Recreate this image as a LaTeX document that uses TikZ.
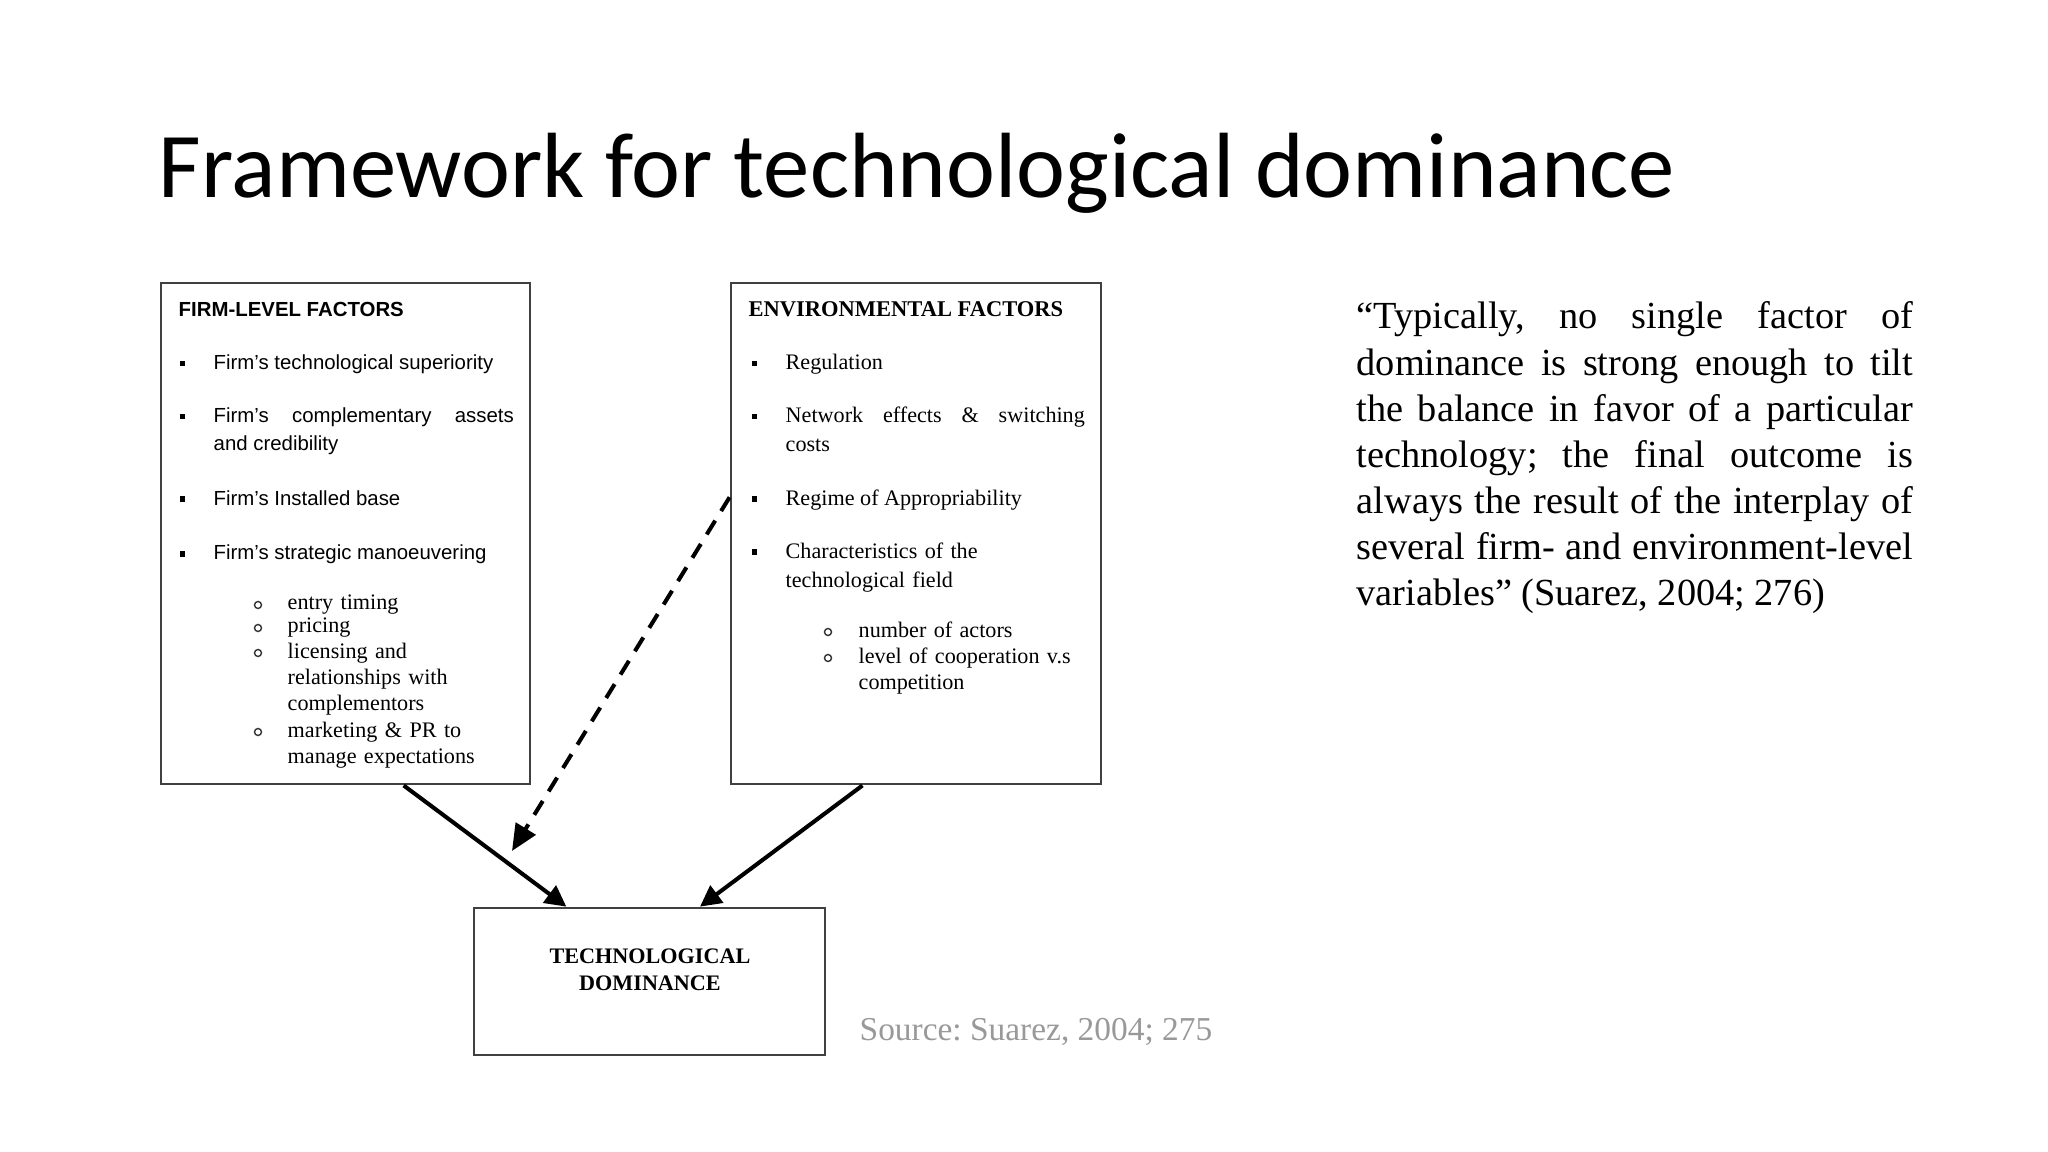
\documentclass[tikz,border=0pt]{standalone}
\usepackage{fontspec}
\setmainfont{Liberation Serif}
\setsansfont{Liberation Sans}
\newfontfamily\titlefont{Carlito}
\usetikzlibrary{arrows.meta}
\usetikzlibrary{positioning}
\frenchspacing

\begin{document}
\begin{tikzpicture}[x=0.01cm,y=-0.01cm]
	%\draw[help lines] (0,0) grid[step=100] (2048,1152);
	\useasboundingbox (0,0) rectangle (2048,1152);
	\fill[white] (0,0) rectangle (2048,1152);

	\tikzstyle{fbox} = [draw=black!75,line width=0.75pt,inner sep=0pt]
	\tikzstyle{head} = [anchor=base west,inner sep=0pt]
	\tikzstyle{ftext} = [anchor=base west,inner sep=0pt,font=\sffamily\fontsize{5.8}{7.7}\selectfont]
	\tikzstyle{etext} = [anchor=base west,inner sep=0pt,font=\rmfamily\fontsize{6.3}{8.1}\selectfont]
	\tikzstyle{subtext} = [anchor=base west,inner sep=0pt,text width=2.2cm,align=left,font=\rmfamily\fontsize{6.3}{7.4}\selectfont]
	\tikzstyle{bul} = [rectangle,fill=black,inner sep=0pt,minimum size=0.05cm]
	\tikzstyle{subbul} = [circle,draw=black!80,line width=0.4pt,inner sep=0pt,minimum size=0.07cm]
	\tikzstyle{vedge} = [-{Triangle[length=6pt,width=6pt]},line width=1.15pt]
	\tikzstyle{medge} = [-{Triangle[length=7.5pt,width=6.5pt]},line width=1.15pt,dash pattern=on 4.6pt off 3.2pt]

	% title and quote
	\node[head,font=\titlefont\fontsize{26.35}{30}\selectfont] (title) at (158,198) {Framework for technological dominance};

	\node[head,text width=5.56cm,align=justify,font=\rmfamily\fontsize{10.9}{13.1}\selectfont] (quote) at (1356,329)
		{\hyphenpenalty=10000 \exhyphenpenalty=10000 ``Typically, no single factor of\linebreak
		dominance is strong enough to tilt\linebreak
		the balance in favor of a particular\linebreak
		technology; the final outcome is\linebreak
		always the result of the interplay of\linebreak
		several firm- and environment-level\linebreak
		variables'' (Suarez, 2004; 276)};

	% boxes
	\node[fbox,minimum width=3.69cm,minimum height=5.01cm] (firm) at (345.5,533.5) {};
	\node[fbox,minimum width=3.70cm,minimum height=5.01cm] (env) at (916,533.5) {};
	\node[fbox,minimum width=3.51cm,minimum height=1.47cm] (dom) at (649.5,981.5) {};

	% firm-level factors
	\node[head,font=\sffamily\bfseries\fontsize{5.8}{7}\selectfont] (fhead) at (178,317) {FIRM-LEVEL FACTORS};
	\node[ftext] (f1) at (213,370) {Firm's technological superiority};
	\node[ftext,text width=3cm,align=justify] (f2) at (213,423) {Firm's complementary assets\linebreak and credibility};
	\node[ftext] (f3) at (213,505) {Firm's Installed base};
	\node[ftext] (f4) at (213,560) {Firm's strategic manoeuvering};
	\foreach \y [count=\i] in {364,417,499,554}
		\node[bul] (fb\i) at (182,\y) {};

	\node[subtext] (s1) at (287,610) {entry timing};
	\node[subtext] (s2) at (287,633) {pricing};
	\node[subtext] (s3) at (287,658) {licensing and\\relationships with\\complementors};
	\node[subtext] (s4) at (287,737) {marketing \& PR to\\manage expectations};
	\foreach \y [count=\i] in {605,628,653,732}
		\node[subbul] (sb\i) at (258,\y) {};

	% environmental factors
	\node[head,font=\rmfamily\bfseries\fontsize{6.4}{7}\selectfont] (ehead) at (748,317) {ENVIRONMENTAL FACTORS};
	\node[etext] (e1) at (785,370) {Regulation};
	\node[etext,text width=2.99cm,align=justify] (e2) at (785,423) {Network effects \& switching\linebreak costs};
	\node[etext] (e3) at (785,505) {Regime of Appropriability};
	\node[etext,text width=2.99cm,align=left,font=\rmfamily\fontsize{6.3}{8.25}\selectfont] (e4) at (785,558) {Characteristics of the\\technological field};
	\foreach \y [count=\i] in {364,417,499,552}
		\node[bul] (eb\i) at (754,\y) {};

	\node[subtext,font=\rmfamily\fontsize{6.3}{7.6}\selectfont] (t1) at (858,637) {number of actors};
	\node[subtext,font=\rmfamily\fontsize{6.3}{7.6}\selectfont] (t2) at (858,663) {level of cooperation v.s\\competition};
	\foreach \y [count=\i] in {632,658}
		\node[subbul] (tb\i) at (828,\y) {};

	% outcome
	\node[align=center,inner sep=0pt,font=\rmfamily\bfseries\fontsize{6.3}{7.7}\selectfont] (domtext) at (650,970) {TECHNOLOGICAL\\DOMINANCE};

	\node[head,text=black!40,font=\rmfamily\fontsize{9.5}{11}\selectfont] (src) at (859,1040) {Source: Suarez, 2004; 275};

	% arrows
	\coordinate (mod) at (512,851);
	\draw[vedge] (firm.-77.7) -- (dom.138.6);
	\draw[vedge] (env.-102.4) -- (dom.56.7);
	\draw[medge] (env.169.7) -- (mod);

\end{tikzpicture}
\end{document}
